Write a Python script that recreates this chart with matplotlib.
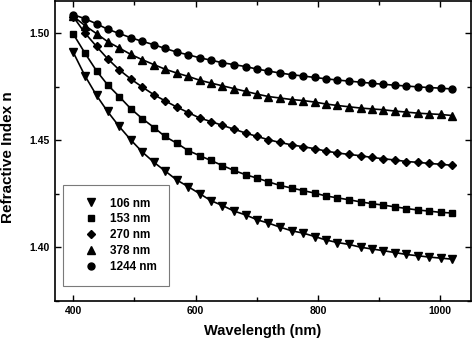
import matplotlib
matplotlib.use('Agg')
import matplotlib.pyplot as plt
from matplotlib.ticker import MultipleLocator

plt.rcParams['font.family'] = ['Liberation Sans', 'DejaVu Sans']
plt.rcParams['font.weight'] = 'bold'

wavelength = [400, 419, 438, 456, 475, 494, 513, 532, 550, 569, 588, 607,
              625, 644, 663, 682, 701, 719, 738, 757, 776, 795, 813, 832,
              851, 870, 888, 907, 926, 945, 964, 982, 1001, 1020]

n_106 = [1.4911, 1.4802, 1.4710, 1.4635, 1.4565, 1.4502, 1.4445, 1.4397,
         1.4357, 1.4315, 1.4283, 1.4250, 1.4218, 1.4195, 1.4169, 1.4151,
         1.4128, 1.4113, 1.4094, 1.4077, 1.4066, 1.4050, 1.4034, 1.4022,
         1.4013, 1.4000, 1.3992, 1.3984, 1.3975, 1.3966, 1.3960, 1.3954,
         1.3949, 1.3944]
n_153 = [1.4997, 1.4908, 1.4825, 1.4760, 1.4705, 1.4648, 1.4601, 1.4560,
         1.4518, 1.4487, 1.4452, 1.4428, 1.4406, 1.4382, 1.4359, 1.4339,
         1.4323, 1.4306, 1.4289, 1.4277, 1.4265, 1.4253, 1.4240, 1.4231,
         1.4222, 1.4212, 1.4204, 1.4197, 1.4189, 1.4181, 1.4174, 1.4169,
         1.4163, 1.4160]
n_270 = [1.5078, 1.5002, 1.4939, 1.4882, 1.4830, 1.4787, 1.4749, 1.4713,
         1.4685, 1.4656, 1.4630, 1.4604, 1.4588, 1.4570, 1.4552, 1.4534,
         1.4518, 1.4503, 1.4490, 1.4479, 1.4470, 1.4461, 1.4450, 1.4441,
         1.4434, 1.4428, 1.4420, 1.4414, 1.4408, 1.4401, 1.4397, 1.4392,
         1.4388, 1.4383]
n_378 = [1.5080, 1.5037, 1.4999, 1.4962, 1.4932, 1.4902, 1.4877, 1.4854,
         1.4833, 1.4815, 1.4799, 1.4781, 1.4768, 1.4755, 1.4742, 1.4729,
         1.4716, 1.4705, 1.4698, 1.4691, 1.4686, 1.4679, 1.4670, 1.4663,
         1.4657, 1.4651, 1.4647, 1.4643, 1.4637, 1.4632, 1.4627, 1.4624,
         1.4621, 1.4616]
n_1244 = [1.5088, 1.5069, 1.5045, 1.5020, 1.5000, 1.4980, 1.4963, 1.4947,
          1.4930, 1.4913, 1.4900, 1.4886, 1.4875, 1.4863, 1.4854, 1.4845,
          1.4833, 1.4824, 1.4815, 1.4807, 1.4801, 1.4794, 1.4788, 1.4782,
          1.4777, 1.4772, 1.4767, 1.4762, 1.4758, 1.4754, 1.4750, 1.4747,
          1.4744, 1.4740]

labels = ['106 nm', '153 nm', '270 nm', '378 nm', '1244 nm']
markers = ['v', 's', 'D', '^', 'o']
series = [n_106, n_153, n_270, n_378, n_1244]
sizes = [5.5, 4.5, 4.5, 5.5, 5]

fig = plt.figure(figsize=(4.74, 3.46), dpi=100)
ax = fig.add_axes([0.116, 0.131, 0.877, 0.865])

for n, m, lab, s in zip(series, markers, labels, sizes):
    ax.plot(wavelength, n, color='black', linewidth=1.2)
    ax.plot(wavelength, n, linestyle='none', marker=m, markersize=s,
            color='black', label=lab)

ax.set_xlim(370, 1050)
ax.set_ylim(1.375, 1.515)
ax.xaxis.set_major_locator(MultipleLocator(200))
ax.xaxis.set_minor_locator(MultipleLocator(100))
ax.yaxis.set_major_locator(MultipleLocator(0.05))
ax.yaxis.set_minor_locator(MultipleLocator(0.025))
ax.yaxis.set_major_formatter(plt.FormatStrFormatter('%.2f'))
ax.tick_params(which='both', direction='in', top=True, right=True,
               labelsize=7.5, width=1)
ax.tick_params(which='major', length=4)
ax.tick_params(which='minor', length=3)
for sp in ax.spines.values():
    sp.set_linewidth(1.2)

ax.set_xlabel('Wavelength (nm)', fontsize=10.5, fontweight='bold', labelpad=6)
ax.set_ylabel('Refractive Index n', fontsize=11, fontweight='bold')
ax.yaxis.set_label_coords(-0.095, 0.48)

leg = ax.legend(loc='lower left', bbox_to_anchor=(0.019, 0.05), fontsize=8.5,
                frameon=True, fancybox=False, edgecolor='0.35',
                borderpad=1.1, labelspacing=0.32, handletextpad=0.35,
                handlelength=2.5, borderaxespad=0)
leg.get_frame().set_linewidth(0.8)
for t in leg.get_texts():
    t.set_fontweight('bold')

fig.savefig('out.png', dpi=100)
